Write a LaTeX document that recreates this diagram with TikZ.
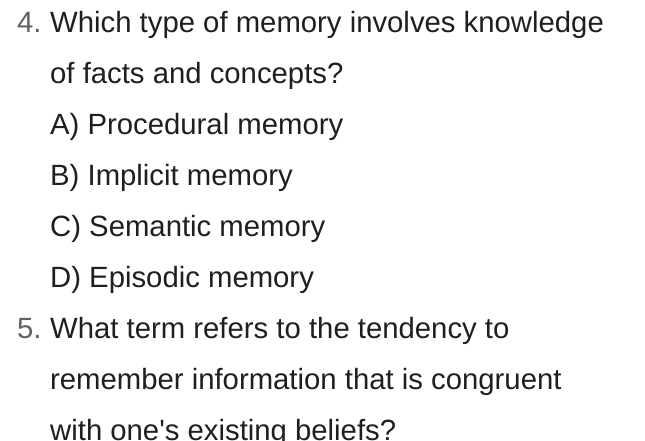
\documentclass[tikz,border=0pt]{standalone}
\usepackage{fontspec}
\setmainfont{Liberation Sans}
\begin{document}
\begin{tikzpicture}[x=1pt,y=-1pt,
  txt/.style={anchor=base west,inner sep=0pt,font=\fontsize{29.3}{33}\selectfont,text=black!88},
  num/.style={txt,text=black!62}]
\clip (0,0) rectangle (645,440);
\fill[white] (0,0) rectangle (645,440);
\node[num] (n4) at (17,32) {4.};
\node[txt] (l1) at (50,32) {Which type of memory involves knowledge};
\node[txt] (l2) at (50,83) {of facts and concepts?};
\node[txt] (l3) at (50,134) {A) Procedural memory};
\node[txt] (l4) at (50,185) {B) Implicit memory};
\node[txt] (l5) at (50,236) {C) Semantic memory};
\node[txt] (l6) at (50,287) {D) Episodic memory};
\node[num] (n5) at (17,338) {5.};
\node[txt] (l7) at (50,338) {What term refers to the tendency to};
\node[txt] (l8) at (50,389) {remember information that is congruent};
\node[txt] (l9) at (50,440) {with one\textquotesingle s existing beliefs?};
\end{tikzpicture}
\end{document}
